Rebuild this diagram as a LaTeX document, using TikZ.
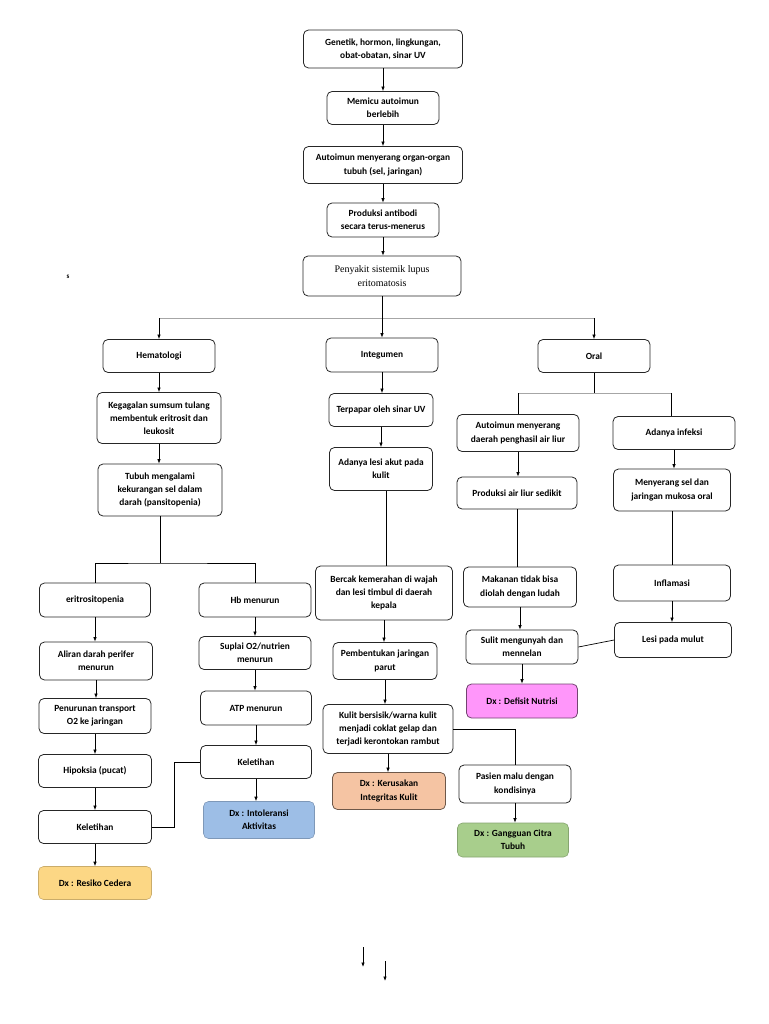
\documentclass[tikz,border=0pt]{standalone}
\usepackage{fontspec}
\setmainfont{Carlito}
\newfontfamily\lupusserif{Liberation Serif}
\usetikzlibrary{arrows.meta,positioning,calc}
\definecolor{cedera fill}{HTML}{FCD785}
\definecolor{aktivitas fill}{HTML}{9DBEE6}
\definecolor{kulit fill}{HTML}{F5C4A3}
\definecolor{nutrisi fill}{HTML}{FF96FA}
\definecolor{citra fill}{HTML}{A8CE8C}
\tikzset{
    % Boxes
    box/.style 2 args={draw=black!85,line width=0.8pt,rounded corners=5pt,align=center,
        minimum width=#1pt,minimum height=#2pt,inner sep=1pt,
        font=\bfseries\fontsize{9.4}{13.2}\selectfont},
    dx/.style={line width=0.6pt,fill=#1,draw=#1!80!black},
    dx dark/.style={line width=0.8pt,fill=#1,draw=#1!45!black},
    %
    % Arrows and lines
    arrow tip/.tip={Latex[length=4.5pt,width=3.5pt]},
    arr/.style={->,>={arrow tip},line width=0.7pt},
    link/.style={line width=0.7pt},
    grey link/.style={line width=0.8pt,black!35}
}

\begin{document}
\begin{tikzpicture}[x=1pt,y=-1pt]
    \useasboundingbox (0,0) rectangle (768,1024);
    % Top chain
    \node[box={159}{38}] (gen) at (383,49) {Genetik, hormon, lingkungan,\\obat-obatan, sinar UV};
    \node[box={112}{33}] (memicu) at (383,108) {Memicu autoimun\\berlebih};
    \node[box={159}{37}] (serang) at (383,165) {Autoimun menyerang organ-organ\\tubuh (sel, jaringan)};
    \node[box={112}{34}] (antibodi) at (383,220) {Produksi antibodi\\secara terus-menerus};
    \node[box={158}{40},font=\lupusserif\fontsize{10}{13.5}\selectfont] (sle) at (382,276) {Penyakit sistemik lupus\\eritomatosis};
    \node[font=\bfseries\fontsize{7}{8}\selectfont] (stray) at (68,277) {s};
    \foreach \a/\b in {gen/memicu,memicu/serang,serang/antibodi,antibodi/sle}
        \draw[arr] (\a) -- (\a |- \b.north);
    %
    % Three systems
    \node[box={112}{33}] (hema) at (159,356) {Hematologi};
    \node[box={112}{34}] (integ) at (382,355) {Integumen};
    \node[box={112}{33}] (oral) at (594,356) {Oral};
    \coordinate (split) at (382,318);
    \draw[link] (sle) -- (split);
    \draw[grey link] (hema.north |- split) -- (oral.north |- split);
    \foreach \n in {hema,integ,oral}
        \draw[arr] (\n.north |- split) -- (\n.north);
    %
    % Hematologi
    \node[box={124}{51}] (gagal) at (159,418) {Kegagalan sumsum tulang\\membentuk eritrosit dan\\leukosit};
    \node[box={124}{52}] (pansit) at (160,490) {Tubuh mengalami\\kekurangan sel dalam\\darah (pansitopenia)};
    \node[box={111}{34}] (eri) at (95,600) {eritrositopenia};
    \node[box={112}{34}] (hb) at (255,600) {Hb menurun};
    \node[box={113}{38}] (aliran) at (96,661) {Aliran darah perifer\\menurun};
    \node[box={112}{35}] (transport) at (95,716) {Penurunan transport\\O2 ke jaringan};
    \node[box={113}{33}] (hipoksia) at (95,771) {Hipoksia (pucat)};
    \node[box={113}{33}] (letih a) at (95,827) {Keletihan};
    \node[box={113}{33},dx=cedera fill] (cedera) at (95,883) {Dx : Resiko Cedera};
    \node[box={112}{33}] (suplai) at (255,653) {Suplai O2/nutrien\\menurun};
    \node[box={111}{34}] (atp) at (256,708) {ATP menurun};
    \node[box={111}{33}] (letih b) at (256,762) {Keletihan};
    \node[box={111}{37},dx=aktivitas fill] (aktivitas) at (259,820) {Dx : Intoleransi\\Aktivitas};
    \draw[arr] (hema) -- (hema |- gagal.north);
    \draw[arr] (gagal) -- (gagal |- pansit.north);
    \coordinate (split hema) at (160,563);
    \draw[link] (pansit) -- (split hema);
    \draw[link] (eri.north) |- (split hema) -| (hb.north);
    \foreach \a/\b in {eri/aliran,aliran/transport,transport/hipoksia,hipoksia/letih a,letih a/cedera,
                       hb/suplai,suplai/atp,atp/letih b,letih b/aktivitas}
        \draw[arr] (\a) -- (\a |- \b.north);
    \draw[link] (letih a.east) -- ++(22,0) |- (letih b.west);
    %
    % Integumen
    \node[box={104}{33}] (uv) at (381,410) {Terpapar oleh sinar UV};
    \node[box={103}{43}] (lesi) at (381,469) {Adanya lesi akut pada\\kulit};
    \node[box={137}{54}] (bercak) at (384,593) {Bercak kemerahan di wajah\\dan lesi timbul di daerah\\kepala};
    \node[box={104}{37}] (parut) at (385,661) {Pembentukan jaringan\\parut};
    \node[box={130}{49}] (sisik) at (388,729) {Kulit bersisik/warna kulit\\menjadi coklat gelap dan\\terjadi kerontokan rambut};
    \node[box={113}{37},dx dark=kulit fill] (integritas) at (389,791) {Dx : Kerusakan\\Integritas Kulit};
    \node[box={112}{38}] (malu) at (515,784) {Pasien malu dengan\\kondisinya};
    \node[box={111}{34},dx=citra fill] (citra) at (513,840) {Dx : Gangguan Citra\\Tubuh};
    \draw[arr] (integ) -- (integ |- uv.north);
    \draw[arr] (uv) -- (uv |- lesi.north);
    \draw[link] (bercak.north -| 386,0) -- (lesi.south -| 386,0);
    \foreach \a/\b in {bercak/parut,parut/sisik,sisik/integritas,malu/citra}
        \draw[arr] (\a) -- (\a |- \b.north);
    \draw[link] (sisik.east) -| (malu.north);
    %
    % Oral
    \node[box={122}{37}] (liur) at (518,433) {Autoimun menyerang\\daerah penghasil air liur};
    \node[box={120}{32}] (sedikit) at (517,493) {Produksi air liur sedikit};
    \node[box={113}{40}] (makanan) at (520,587) {Makanan tidak bisa\\diolah dengan ludah};
    \node[box={112}{34}] (sulit) at (522,647) {Sulit mengunyah dan\\mennelan};
    \node[box={111}{34},dx dark=nutrisi fill] (nutrisi) at (522,701) {Dx : Defisit Nutrisi};
    \node[box={122}{33}] (infeksi) at (674,433) {Adanya infeksi};
    \node[box={117}{42}] (mukosa) at (672,490) {Menyerang sel dan\\jaringan mukosa oral};
    \node[box={117}{36}] (inflamasi) at (672,583) {Inflamasi};
    \node[box={117}{35}] (mulut) at (673,640) {Lesi pada mulut};
    \coordinate (split oral) at (594,393);
    \draw[link] (oral) -- (split oral);
    \draw[grey link] (liur.north |- split oral) -- (671,393);
    \draw[link] (liur.north |- split oral) -- (liur.north);
    \draw[link] (671,393) -- (infeksi.north -| 671,0);
    \foreach \a/\b in {liur/sedikit,makanan/sulit,sulit/nutrisi,infeksi/mukosa,inflamasi/mulut}
        \draw[arr] (\a) -- (\a |- \b.north);
    \draw[link] (sedikit) -- (sedikit |- makanan.north);
    \draw[link] (mukosa) -- (mukosa |- inflamasi.north);
    \draw[link] (mulut.west) -- (sulit.east);
    %
    % Loose arrows at the foot
    \coordinate (loose a) at (363,947);
    \coordinate (loose b) at (385,961);
    \draw[arr] (loose a) -- ++(0,20);
    \draw[arr] (loose b) -- ++(0,20);
\end{tikzpicture}
\end{document}
